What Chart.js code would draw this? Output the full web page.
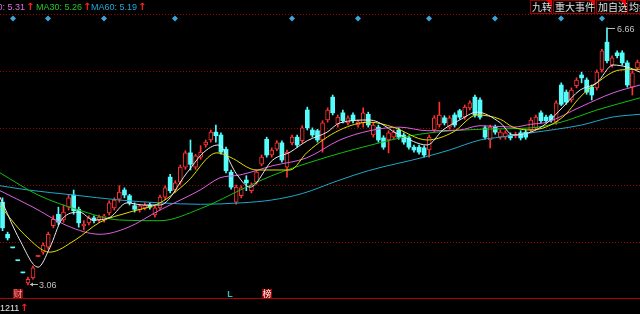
<!DOCTYPE html>
<html>
<head>
<meta charset="utf-8">
<script src="https://cdn.jsdelivr.net/npm/chart.js@4.4.1/dist/chart.umd.min.js"></script>
<style>
html,body{margin:0;padding:0;background:#000;overflow:hidden;}
canvas{display:block;}
</style>
</head>
<body>
<canvas id="c" width="640" height="314"></canvas>
<script>
// ---------------- data ----------------
const openP = [
4.22,3.77,3.58,3.40,3.23,3.09,3.16,3.46,3.52,3.59,
3.89,4.05,3.97,4.15,4.32,4.12,3.89,3.93,4.00,3.97,
3.97,4.07,4.14,4.26,4.39,4.31,4.17,4.11,4.14,4.18,
4.04,4.14,4.29,4.57,4.39,4.50,4.71,4.91,4.71,4.85,
5.02,5.09,5.20,5.16,4.96,4.64,4.22,4.31,4.53,4.38,
4.50,4.75,5.10,4.88,4.96,5.05,4.71,5.05,5.13,5.08,
5.51,5.23,5.22,5.09,5.37,5.69,5.31,5.47,5.33,5.44,
5.30,5.33,5.45,5.16,5.27,5.12,5.09,5.13,5.23,5.16,
5.12,4.99,4.99,4.98,4.95,5.23,5.30,5.40,5.27,5.44,
5.50,5.41,5.54,5.69,5.65,5.26,5.09,5.27,5.13,5.13,
5.16,5.15,5.19,5.20,5.23,5.26,5.47,5.41,5.43,5.34,
5.86,5.76,5.65,5.85,6.00,5.93,5.83,5.82,6.07,6.46,
6.14,6.31,6.31,6.17,5.83,6.10];
const closeP = [
3.86,3.72,3.58,3.40,3.23,3.14,3.30,3.46,3.62,3.77,
3.98,3.94,4.08,4.28,4.10,3.93,3.91,4.00,3.96,4.01,
4.03,4.21,4.25,4.36,4.32,4.21,4.12,4.17,4.18,4.15,
4.14,4.29,4.42,4.38,4.49,4.71,4.91,4.75,4.87,4.92,
5.06,5.20,5.15,4.92,4.66,4.43,4.43,4.42,4.49,4.46,
4.64,4.85,4.88,4.95,5.05,4.81,4.92,5.13,5.02,5.26,
5.26,5.16,5.09,5.33,5.51,5.47,5.41,5.36,5.40,5.36,
5.34,5.47,5.30,5.30,5.09,4.99,5.19,5.20,5.13,5.06,
4.99,4.95,4.92,4.88,5.13,5.40,5.44,5.33,5.40,5.30,
5.41,5.55,5.61,5.44,5.41,5.13,5.27,5.20,5.20,5.19,
5.12,5.17,5.12,5.13,5.37,5.41,5.36,5.36,5.37,5.61,
5.59,5.62,5.79,5.93,5.96,5.76,5.72,6.04,6.34,6.20,
6.24,6.27,6.17,5.86,6.03,6.18];
const highP = [
4.28,3.80,3.58,3.40,3.23,3.17,3.33,3.46,3.65,3.80,
4.03,4.15,4.18,4.32,4.39,4.15,3.96,4.03,4.03,4.04,
4.05,4.24,4.28,4.45,4.42,4.33,4.21,4.19,4.21,4.21,
4.17,4.32,4.45,4.61,4.52,4.74,4.94,5.09,4.89,5.01,
5.09,5.23,5.30,5.19,4.99,4.67,4.46,4.45,4.59,4.49,
4.67,4.88,5.13,4.98,5.08,5.08,4.95,5.16,5.16,5.29,
5.55,5.26,5.24,5.36,5.54,5.72,5.44,5.51,5.43,5.47,
5.37,5.54,5.48,5.33,5.30,5.15,5.22,5.23,5.26,5.19,
5.15,5.02,5.02,5.01,5.16,5.43,5.62,5.43,5.43,5.47,
5.52,5.58,5.64,5.72,5.68,5.29,5.30,5.30,5.23,5.22,
5.19,5.20,5.22,5.23,5.40,5.44,5.50,5.44,5.45,5.64,
5.89,5.79,5.82,5.96,6.04,5.96,5.86,6.07,6.36,6.66,
6.27,6.34,6.34,6.20,6.06,6.21];
const lowP = [
3.82,3.69,3.58,3.40,3.23,3.06,3.14,3.46,3.49,3.56,
3.86,3.90,3.94,4.11,4.05,3.87,3.83,3.90,3.93,3.94,
3.94,4.04,4.11,4.22,4.28,4.18,4.08,4.08,4.11,4.12,
4.01,4.11,4.26,4.35,4.36,4.47,4.68,4.67,4.68,4.82,
4.99,5.06,5.06,4.89,4.63,4.40,4.19,4.28,4.38,4.35,
4.47,4.73,4.85,4.85,4.94,4.78,4.57,5.02,4.99,5.05,
5.23,5.13,5.06,4.92,5.34,5.44,5.27,5.33,5.30,5.33,
5.27,5.27,5.27,5.13,5.06,4.96,4.91,5.10,5.10,5.03,
4.96,4.92,4.89,4.85,4.85,5.20,5.27,5.30,5.24,5.27,
5.38,5.38,5.51,5.41,5.38,5.10,4.98,5.17,5.10,5.10,
5.09,5.12,5.09,5.10,5.20,5.23,5.33,5.33,5.34,5.31,
5.57,5.59,5.62,5.82,5.89,5.73,5.65,5.79,6.04,6.17,
6.11,6.24,6.14,5.83,5.72,6.07];

// moving averages, read at sample positions (candle index) from the picture
const ma5X  = [-0.5,3.4,7,9.3,11.7,15.2,17.8,21.2,24.5,27.7,31,36.3,39.5,42.4,46.2,48.7,53.2,56.6,60,63.9,66.4,72.3,78.2,83.6,86.7,90,93.4,98,100.5,104,107.2,110.3,113.7,117,120.2,123,125.5];
const ma5   = [4.29,3.69,3.31,3.58,3.98,4.08,3.97,4.01,4.21,4.18,4.18,4.63,4.91,5.02,4.60,4.43,4.81,4.92,5.08,5.20,5.33,5.37,5.16,5.02,5.23,5.37,5.48,5.33,5.16,5.20,5.33,5.55,5.79,5.89,6.14,6.11,6.04];
const ma10X = [-0.5,4.4,9.3,14.3,19.2,25,31,36.3,42.2,44.8,50,56.6,60,66.4,72.3,76.9,83.6,88.7,93.4,98,100.5,104,110.3,113.7,117,121.5,125.5];
const ma10  = [4.17,3.76,3.52,3.69,3.94,4.08,4.21,4.50,4.91,4.85,4.67,4.67,4.92,5.23,5.34,5.27,5.09,5.20,5.44,5.38,5.27,5.23,5.41,5.69,5.89,6.07,6.08];
const ma20X = [-0.5,6,12.7,19.2,24.5,31,38.9,42.8,46.7,53.2,59.9,66.4,72.3,78.2,83.6,90,94,100.5,104,107.2,113.7,120.2,125.5];
const ma20  = [4.38,4.15,3.89,3.77,3.86,4.11,4.39,4.56,4.60,4.73,4.84,5.09,5.22,5.27,5.22,5.23,5.29,5.27,5.31,5.34,5.55,5.75,5.86];
const ma30X = [-0.5,7,15,23,31,39,48,53,62,72,82,94,104,110,117,125.5];
const ma30  = [4.63,4.32,4.11,3.97,3.96,4.13,4.43,4.59,4.81,5.01,5.17,5.24,5.26,5.34,5.51,5.68];
const ma60X = [-0.5,5,14,23,31,39,47,53,59,66,72,83,88,94,98,104,114,120,125.5];
const ma60  = [4.45,4.39,4.32,4.25,4.21,4.19,4.21,4.25,4.34,4.52,4.66,4.85,4.95,5.09,5.13,5.19,5.30,5.41,5.45];

const headerLabels = ['MA20: 5.31', 'MA30: 5.26', 'MA60: 5.19'];
const buttonLabels = ['九转', '重大事件', '加自选', '均线'];
const eventIdx = [2, 9, 20, 34, 57, 70, 84, 97, 110, 118];
const bottomMarks = [{i: 3, t: '财'}, {i: 45, t: 'L'}, {i: 52, t: '榜'}];
const volLabel = '1211';
const yMin = 2.864, yMax = 6.854;
const gridValues = [6.854, 6.056, 5.258, 4.458, 3.662];

// ---------------- helpers ----------------
const UP = '#ff3232', DOWN = '#54fcfc';
const N = openP.length;
const idx = openP.map((_, i) => i);
const isUp = idx.map(i => closeP[i] > openP[i] || (closeP[i] === openP[i] && i > 0 && closeP[i] >= closeP[i - 1]));
const hollow = idx.map(i => isUp[i] && (closeP[i] - openP[i]) > 0.02);
const wickData = idx.map(i => ({x: i, y: [lowP[i], highP[i]]}));
const bodyData = idx.map(i => ({x: i, y: [Math.min(openP[i], closeP[i]), Math.max(openP[i], closeP[i])]}));
const pts = (xs, ys) => xs.map((x, k) => ({x, y: ys[k]}));
const maLine = (xs, ys, color) => ({
  type: 'line', data: pts(xs, ys), borderColor: color, borderWidth: 1,
  pointRadius: 0, cubicInterpolationMode: 'monotone', fill: false, order: 1
});
const hiIdx = highP.indexOf(Math.max(...highP));
const loIdx = lowP.indexOf(Math.min(...lowP));

const deco = {
  id: 'deco',
  beforeDraw(chart) {
    const c = chart.ctx;
    c.save(); c.fillStyle = '#000'; c.fillRect(0, 0, chart.width, chart.height); c.restore();
  },
  beforeDatasetsDraw(chart) {
    const c = chart.ctx, y = chart.scales.y;
    c.save();
    c.lineWidth = 1;
    c.strokeStyle = '#a00000';
    c.setLineDash([1, 2]);
    gridValues.forEach(v => {
      const py = Math.round(y.getPixelForValue(v)) + 0.5;
      c.beginPath(); c.moveTo(0, py); c.lineTo(chart.width, py); c.stroke();
    });
    c.setLineDash([]);
    c.strokeStyle = '#b00000';
    const by = Math.round(y.getPixelForValue(yMin)) - 0.5;
    c.beginPath(); c.moveTo(0, by); c.lineTo(chart.width, by); c.stroke();
    c.restore();
  },
  afterDraw(chart) {
    const c = chart.ctx, x = chart.scales.x, y = chart.scales.y;
    c.save();
    // header MA values
    c.font = '9px "Liberation Sans", Arial, sans-serif';
    c.textBaseline = 'alphabetic';
    const hc = ['#e070e0', '#22c822', '#22a8d8'];
    const hEnd = [25, 82, 137];
    headerLabels.forEach((t, k) => {
      c.textAlign = 'right'; c.fillStyle = hc[k];
      c.fillText(t, hEnd[k], 10);
      c.textAlign = 'left'; c.fillStyle = '#ff2020';
      c.font = 'bold 10px "DejaVu Sans", sans-serif';
      c.fillText('↑', hEnd[k] + 1, 10);
      c.font = '9px "Liberation Sans", Arial, sans-serif';
    });
    // buttons
    const bx = [[530, 22], [553, 42], [596, 30], [627, 24]];
    c.font = '10px "Noto Sans CJK SC", sans-serif';
    c.textAlign = 'left';
    buttonLabels.forEach((t, k) => {
      const [x0, w] = bx[k];
      c.strokeStyle = '#9a0000'; c.lineWidth = 1;
      c.strokeRect(x0 + 0.5, 0.5, w - 1, 13);
      c.fillStyle = '#e0e0e0';
      c.fillText(t, x0 + 2, 11);
      c.fillStyle = '#ee0000';
      c.beginPath(); c.moveTo(x0 + w - 6, 0); c.lineTo(x0 + w, 0); c.lineTo(x0 + w, 6); c.closePath(); c.fill();
    });
    // event diamonds
    c.fillStyle = '#3aa6d8';
    eventIdx.forEach(i => {
      const px = Math.round(x.getPixelForValue(i));
      c.beginPath(); c.moveTo(px, 15.5); c.lineTo(px + 3, 18.5); c.lineTo(px, 21.5); c.lineTo(px - 3, 18.5); c.closePath(); c.fill();
    });
    // high / low labels
    c.strokeStyle = '#b8b8b8'; c.fillStyle = '#c0c0c0'; c.lineWidth = 1;
    c.font = '9px "Liberation Sans", Arial, sans-serif';
    let px = x.getPixelForValue(hiIdx), py = Math.round(y.getPixelForValue(highP[hiIdx])) + 0.5;
    c.beginPath(); c.moveTo(px, py); c.lineTo(px + 8, py); c.stroke();
    c.fillText(highP[hiIdx].toFixed(2), px + 10, py + 3.5);
    px = x.getPixelForValue(loIdx); py = Math.round(y.getPixelForValue(lowP[loIdx])) - 0.5;
    c.beginPath(); c.moveTo(px + 2, py); c.lineTo(px + 10, py); c.stroke();
    c.beginPath(); c.moveTo(px + 2, py); c.lineTo(px + 5, py - 2); c.lineTo(px + 5, py + 2); c.closePath(); c.fill();
    c.fillText(lowP[loIdx].toFixed(2), px + 11, py + 3.5);
    // bottom markers
    bottomMarks.forEach(m => {
      const mx = x.getPixelForValue(m.i);
      if (m.t === 'L') {
        c.fillStyle = '#30c0c8'; c.font = 'bold 9px "Liberation Sans", sans-serif';
        c.textAlign = 'center'; c.fillText(m.t, mx - 1, 297);
      } else {
        c.fillStyle = m.t === '财' ? '#8c1010' : '#a00000';
        c.fillRect(Math.round(mx) - 5, 289, 10, 9);
        c.fillStyle = m.t === '财' ? '#ff9090' : '#ffffff';
        c.font = '9px "Noto Sans CJK SC", sans-serif';
        c.textAlign = 'center'; c.fillText(m.t, Math.round(mx), 297);
      }
    });
    c.textAlign = 'left';
    c.fillStyle = '#e8e8e8'; c.font = '9px "Liberation Sans", Arial, sans-serif';
    c.fillText(volLabel, 0, 311);
    c.fillStyle = '#ff2020'; c.font = 'bold 10px "DejaVu Sans", sans-serif';
    c.fillText('↑', 20, 311);
    c.restore();
  }
};

new Chart(document.getElementById('c'), {
  type: 'bar',
  data: {
    datasets: [
      maLine(ma5X, ma5, '#e8e8e8'),
      maLine(ma10X, ma10, '#e0e000'),
      maLine(ma20X, ma20, '#e060e0'),
      maLine(ma30X, ma30, '#10c010'),
      maLine(ma60X, ma60, '#1ea8c8'),
      {
        type: 'bar', data: bodyData, grouped: false, barPercentage: 1, categoryPercentage: 1,
        maxBarThickness: 4, minBarLength: 1, borderSkipped: false,
        backgroundColor: ctx => hollow[ctx.dataIndex] ? '#000' : (isUp[ctx.dataIndex] ? UP : DOWN),
        borderColor: ctx => isUp[ctx.dataIndex] ? UP : DOWN,
        borderWidth: ctx => hollow[ctx.dataIndex] ? 1 : 0,
        order: 2
      },
      {
        type: 'bar', data: wickData, grouped: false, barPercentage: 1, categoryPercentage: 1,
        maxBarThickness: 1, borderWidth: 0,
        backgroundColor: ctx => isUp[ctx.dataIndex] ? UP : DOWN,
        order: 3
      }
    ]
  },
  options: {
    responsive: false, animation: false, devicePixelRatio: 1,
    layout: {padding: {top: 14, bottom: 15, left: 0, right: 0}},
    plugins: {legend: {display: false}, tooltip: {enabled: false}},
    events: [],
    scales: {
      x: {type: 'linear', min: -0.5, max: N - 0.5, display: false, offset: false},
      y: {type: 'linear', min: yMin, max: yMax, display: false}
    }
  },
  plugins: [deco]
});
</script>
</body>
</html>
